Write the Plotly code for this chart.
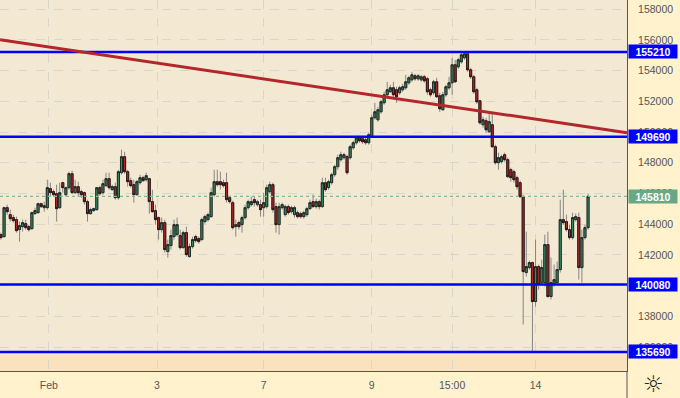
import plotly.graph_objects as go

opens = [143325,143195,145080,144625,144430,144300,143650,143845,144040,143845,
         143715,144690,144755,145340,145080,145080,146315,146120,145990,145080,
         146705,145925,146380,147290,146055,146445,146120,146055,145470,144690,
         144885,144950,146380,146055,146510,146965,146250,146445,145730,147355,
         148395,147420,146835,146575,145925,146705,147030,146900,146965,145470,
         144885,144430,143650,144105,142220,142610,143195,143325,143260,142480,
         143455,141895,142545,143195,143065,143000,144170,144300,144495,145925,
         146770,146770,146705,146705,145730,145405,143845,144105,143975,144430,
         145080,145275,145600,145275,145275,145080,145145,146120,146575,145145,
         143975,145080,144625,145145,144820,144625,144755,144690,144495,144625,
         145015,145470,145145,145470,145145,146705,146380,146705,147225,147745,
         148200,148330,148395,148330,148980,149305,149630,149565,149500,149305,
         149695,150930,150800,151320,151905,152425,152620,152880,152750,152555,
         152750,152880,153205,153400,153660,153465,153400,153595,153465,152750,
         152555,153270,152360,151450,152425,152880,153205,154375,154245,154570,
         154830,155090,154050,153595,152750,152035,150475,150735,150020,150475,
         149045,148005,148070,148525,148200,147550,147420,147030,146705,145795,
         140855,141180,141505,138970,141245,140205,140205,142675,139295,140075,
         140205,141050,144300,144170,143650,143130,144300,144430,141180,143130,
         143780]
highs = [143455,145145,145275,144950,144625,144495,144170,144300,144300,143975,
         144820,145080,145405,145405,145470,146900,146705,146250,146575,146705,
         146770,146445,147420,147485,146900,146770,146250,146120,145600,145080,
         145080,146400,146510,146900,147355,147355,146575,146705,147550,148850,
         148720,147550,147030,146900,146900,147225,147160,147355,147030,146250,
         145275,144495,144430,144300,143000,143650,144300,144430,143650,143585,
         143845,142740,143195,143325,143195,144430,144625,144755,146380,147550,
         147550,147420,146900,147355,145860,145535,144300,144235,144560,145275,
         145600,145795,145795,145600,145600,146055,146575,146770,146705,145405,
         145405,145405,145275,145275,145210,145210,144885,144820,144885,145145,
         145600,145925,145665,145600,147030,147030,146900,147355,147875,148525,
         148720,148655,148525,149175,149435,149760,149760,149695,149630,149955,
         151125,151905,151645,152100,152620,153270,153075,153270,152945,153010,
         153140,153725,153660,153920,153790,153790,153725,153725,153595,152880,
         153400,153530,152555,152620,153075,153595,154830,154700,154830,155155,
         155210,155155,154180,153725,152880,152100,150995,150930,151320,151320,
         149175,148655,148525,148655,148330,147680,147550,147160,146835,145925,
         143520,141635,141570,143000,141375,141700,143325,143520,141830,141375,
         141570,145600,146250,144625,143975,144755,144690,144755,143650,143975,
         146000]
lows = [143000,143130,144625,144170,144105,143455,142870,143520,143650,143520,
        143650,144625,144690,145080,144820,144950,145795,145795,144170,145015,
        146055,145795,146250,145990,145990,145795,145730,145275,144170,144625,
        144820,144885,145860,145925,146445,146250,146185,145600,145600,147225,
        147290,146445,146380,145405,145860,146575,146770,146770,144690,144755,
        143975,143000,143455,142155,141830,142350,143000,143195,142350,142415,
        141895,141830,142415,142805,142740,142935,144040,144170,144430,145795,
        146445,146250,146380,145405,145340,143650,143195,143650,143455,144300,
        144950,145145,145145,145145,144495,144495,145015,145990,144755,143455,
        143325,144950,144495,144625,144690,144430,144365,144365,144365,144495,
        144950,145080,145015,144950,145080,146120,146250,146575,147095,147550,
        148070,148200,147225,148200,148850,149175,149305,149240,149175,149175,
        149630,150800,150670,151190,151775,152295,152555,152295,151905,152425,
        152620,152750,153075,153270,153335,153335,153270,153205,152425,152295,
        152425,152230,151320,151385,152295,152750,152425,153205,154115,154440,
        154700,153920,153465,152490,151840,150475,150280,149955,149955,148980,
        147875,147550,147940,148070,147030,146770,146705,146250,145730,137475,
        140595,141050,135720,138645,139750,140010,139945,139230,139100,139945,
        140075,140855,143975,143520,143000,143000,144170,140400,140205,143000,
        143650]
closes = [143130,145080,144820,144365,144235,143585,143910,144105,143780,143650,
          144755,144885,145340,145145,145210,146380,146055,145925,145015,146055,
          146380,146380,147290,146055,146445,146055,145925,145470,144690,144950,
          145015,146380,145990,146640,146965,146380,146445,145730,147420,148395,
          147420,146770,146510,145925,146770,147030,146835,147160,145470,144820,
          144300,143650,144105,142350,142675,143260,143975,143975,142480,143455,
          142025,142545,143000,142935,142870,144300,144495,144625,146055,146770,
          146575,146575,146510,145600,145470,143780,143975,143845,144430,145080,
          145470,145470,145405,145470,144950,145405,146380,146575,144950,143975,
          145145,145275,145145,144755,145080,145080,144495,144495,144755,145015,
          145405,145145,145470,145145,146705,146250,146770,147225,147745,148330,
          148525,148525,147355,149045,149305,149630,149435,149370,149305,149825,
          150930,151320,151450,151970,152425,152750,152880,152425,152295,152880,
          152945,153270,153530,153725,153465,153660,153595,153335,152620,152425,
          153270,152295,151515,152425,152945,153205,154375,153270,154700,155025,
          155090,154050,153595,152620,151970,150605,150800,150150,150670,149045,
          148005,148330,148395,148200,147095,147030,146900,146445,145795,140920,
          141245,141505,138970,141245,140075,141180,142675,139295,140205,140400,
          141050,144300,144105,143650,143130,144430,144495,141180,143130,143780,
          145810]

tick_idx = [15.5, 50.5, 85, 120, 146, 173]
tick_text = ["Feb", "3", "7", "9", "15:00", "14"]
price_ticks = [136000, 138000, 140000, 142000, 144000, 146000,
               148000, 150000, 152000, 154000, 156000, 158000]
levels = [155210, 149690, 140080, 135690]
last_price = 145810
trend_start = 156000
trend_end = 149955

x = list(range(len(opens)))
body_hi = [max(o, c) for o, c in zip(opens, closes)]
body_lo = [min(o, c) for o, c in zip(opens, closes)]

GREEN = "#3b8c62"
RED = "#b4282a"

fig = go.Figure()
# wicks (gray)
fig.add_trace(go.Candlestick(
    x=x, open=opens, high=highs, low=lows, close=closes,
    increasing=dict(line=dict(color="#858585", width=1), fillcolor=GREEN),
    decreasing=dict(line=dict(color="#858585", width=1), fillcolor=RED),
    whiskerwidth=0, showlegend=False, hoverinfo="skip"))
# bodies with dark outline
fig.add_trace(go.Candlestick(
    x=x, open=opens, high=body_hi, low=body_lo, close=closes,
    increasing=dict(line=dict(color="#1f2a24", width=1), fillcolor=GREEN),
    decreasing=dict(line=dict(color="#2a1616", width=1), fillcolor=RED),
    whiskerwidth=0, showlegend=False, hoverinfo="skip"))

shapes = []
# bottom orange strip
shapes.append(dict(type="rect", xref="paper", yref="paper", x0=0, x1=1, y0=0, y1=0.043,
                   fillcolor="#f9e2bd", line=dict(width=0), layer="below"))
# last price dotted
shapes.append(dict(type="line", xref="paper", yref="y", x0=0, x1=1, y0=last_price, y1=last_price,
                   line=dict(color="#86b894", width=1.2, dash="dot")))
for lv in levels:
    shapes.append(dict(type="line", xref="paper", yref="y", x0=0, x1=1, y0=lv, y1=lv,
                       line=dict(color="#0000ff", width=2.5)))
shapes.append(dict(type="line", xref="paper", yref="y", x0=0, x1=1, y0=trend_start, y1=trend_end,
                   line=dict(color="#b3262b", width=3)))
# separator below the price axis
shapes.append(dict(type="line", xref="paper", yref="paper", x0=1, x1=1, y0=0, y1=-0.08,
                   line=dict(color="#555555", width=1)))

annotations = []
label_font = dict(color="white", size=10.5, family="Liberation Sans", weight="bold")
for lv in levels:
    annotations.append(dict(xref="paper", yref="y", x=1, y=lv, xanchor="left", yanchor="middle",
                            text=str(lv), showarrow=False, bgcolor="#0000ff",
                            font=label_font, width=47, height=12, borderpad=0.5, xshift=1))
annotations.append(dict(xref="paper", yref="y", x=1, y=last_price, xanchor="left", yanchor="middle",
                        text=str(last_price), showarrow=False, bgcolor="#6aa885",
                        font=label_font, width=47, height=12, borderpad=0.5, xshift=1))
annotations.append(dict(xref="paper", yref="paper", x=1.043, y=-0.034, text="☼", showarrow=False,
                        font=dict(size=23, color="#222222", family="DejaVu Sans"),
                        xanchor="center", yanchor="middle"))

fig.update_layout(
    width=680, height=398,
    margin=dict(l=0, r=53, t=0, b=27),
    paper_bgcolor="#fff2cc",
    plot_bgcolor="#f3e9d3",
    boxgap=0.05,
    showlegend=False,
    shapes=shapes,
    annotations=annotations,
    font=dict(family="Liberation Sans", size=10.5, color="#555555"),
)
fig.update_xaxes(
    range=[-0.32, 202.6], rangeslider_visible=False,
    tickmode="array", tickvals=tick_idx, ticktext=tick_text,
    showgrid=True, gridcolor="#d9d5cb", griddash="dash", gridwidth=1,
    showline=True, linecolor="#555555", linewidth=1,
    ticks="outside", ticklen=4, tickcolor="rgba(0,0,0,0)",
    zeroline=False, tickfont=dict(size=10.5, color="#555555"))
fig.update_yaxes(
    side="right", range=[134451, 158592],
    tickmode="array", tickvals=price_ticks, ticktext=[str(t) for t in price_ticks],
    showgrid=True, gridcolor="#d9d5cb", griddash="dash", gridwidth=1,
    showline=True, linecolor="#555555", linewidth=1,
    ticks="outside", ticklen=8, tickcolor="rgba(0,0,0,0)",
    zeroline=False, tickfont=dict(size=10.5, color="#555555"))

fig.write_html("out.html")
